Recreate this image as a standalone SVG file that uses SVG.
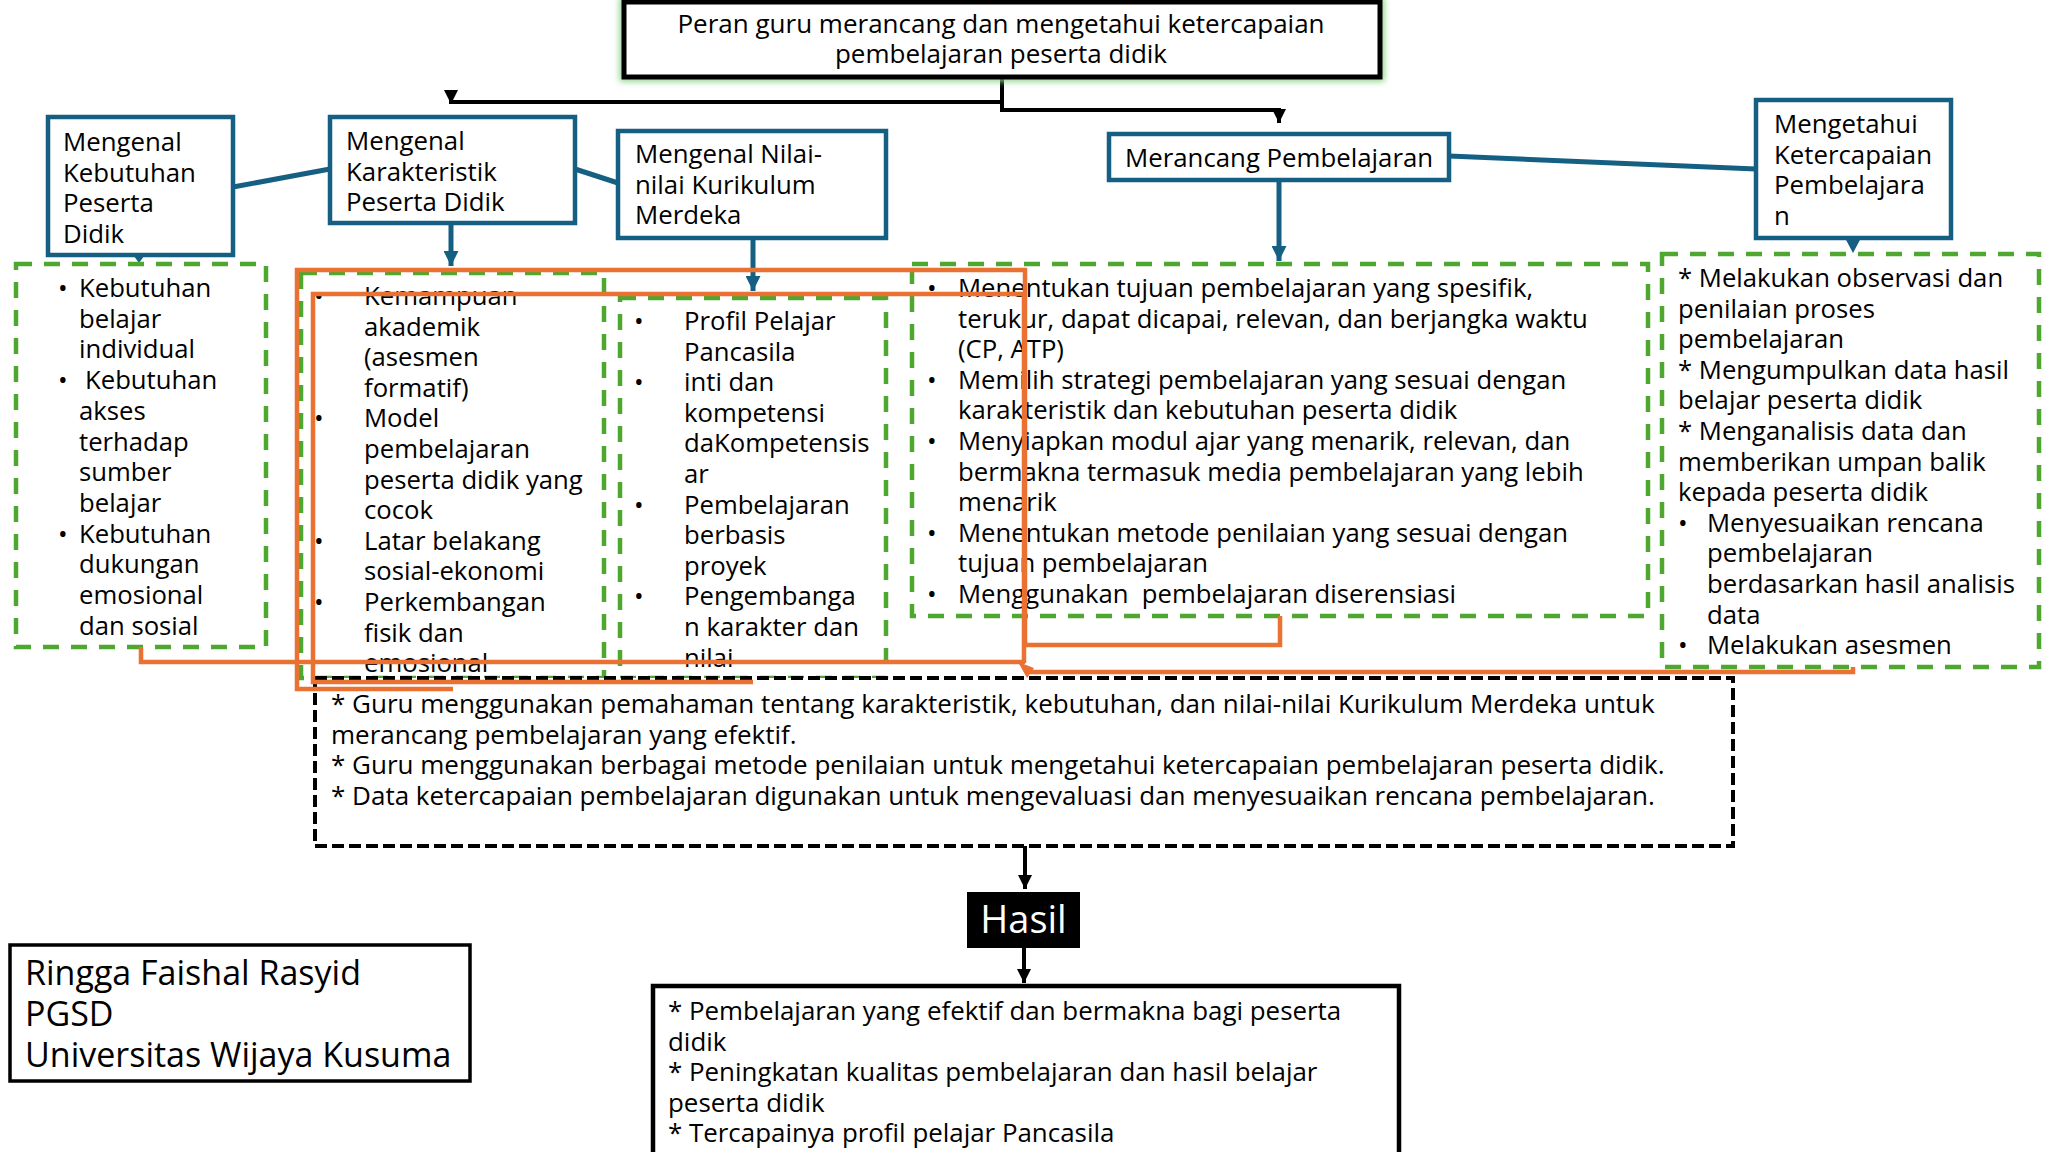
<svg xmlns="http://www.w3.org/2000/svg" width="2048" height="1152" viewBox="0 0 2048 1152">
<defs>
<style>
text{font-family:"Open Sans","Noto Sans",sans-serif;fill:#000}
.t24{font-size:26px}
.t26{font-size:25.7px}
.tb{font-size:25.8px}
.tr{font-size:25.9px}
.teal{fill:#fff;stroke:#156082;stroke-width:4.5}
.gd{fill:none;stroke:#4EA72E;stroke-width:4.5;stroke-dasharray:16 12}
.tl{stroke:#156082;stroke-width:5;fill:none}
.bl{stroke:#000;stroke-width:4;fill:none}
.or{stroke:#E97132;stroke-width:4.5;fill:none;stroke-linejoin:miter}
</style>
<filter id="glow" x="-10%" y="-30%" width="120%" height="160%">
<feGaussianBlur stdDeviation="3"/>
</filter>
<marker id="ab" viewBox="0 0 10 10" refX="10" refY="5" markerWidth="3.5" markerHeight="3.5" orient="auto" markerUnits="strokeWidth">
<path d="M0,0 L10,5 L0,10 z" fill="#000"/>
</marker>
<marker id="at" viewBox="0 0 10 10" refX="10" refY="5" markerWidth="3" markerHeight="3" orient="auto" markerUnits="strokeWidth">
<path d="M0,0 L10,5 L0,10 z" fill="#156082"/>
</marker>
</defs>
<rect width="2048" height="1152" fill="#fff"/>

<g id="connectors">
<path class="bl" d="M1002,78 V102 H451 V104" marker-end="url(#ab)"/>
<path class="bl" d="M1002,78 V110 H1279 V123" marker-end="url(#ab)"/>
<line class="tl" x1="233" y1="187" x2="330" y2="169"/>
<line class="tl" x1="575" y1="169" x2="618" y2="183"/>
<line class="tl" x1="1449" y1="156" x2="1756" y2="169"/>
<line class="tl" x1="451" y1="223" x2="451" y2="266" marker-end="url(#at)"/>
<line class="tl" x1="753" y1="238" x2="753" y2="291" marker-end="url(#at)"/>
<line class="tl" x1="1279" y1="180" x2="1279" y2="261" marker-end="url(#at)"/>
<polygon points="131,252 147,252 139,263" fill="#156082"/>
<polygon points="1845,238 1861,238 1853,253" fill="#156082"/>
<line class="bl" x1="1025" y1="846" x2="1025" y2="889" stroke-width="3" marker-end="url(#ab)"/>
<line class="bl" x1="1024" y1="948" x2="1024" y2="983" stroke-width="3" marker-end="url(#ab)"/>
</g>

<g id="top">
<rect x="624" y="2" width="756" height="75" fill="none" stroke="#8fd48a" stroke-width="9" filter="url(#glow)"/>
<rect x="624" y="2" width="756" height="75" fill="#fff" stroke="#000" stroke-width="5"/>
<text class="t24" x="1001" y="33" text-anchor="middle">Peran guru merancang dan mengetahui ketercapaian</text>
<text class="t24" x="1001" y="63" text-anchor="middle">pembelajaran peserta didik</text>
</g>

<g id="n-kebutuhan">
<rect class="teal" x="48" y="117" width="185" height="138"/>
<text class="tb"><tspan x="63" y="151">Mengenal</tspan><tspan x="63" y="181.5">Kebutuhan</tspan><tspan x="63" y="212">Peserta</tspan><tspan x="63" y="242.5">Didik</tspan></text>
</g>
<g id="n-karakteristik">
<rect class="teal" x="330" y="117" width="245" height="106"/>
<text class="tb"><tspan x="346" y="150">Mengenal</tspan><tspan x="346" y="180.5">Karakteristik</tspan><tspan x="346" y="211">Peserta Didik</tspan></text>
</g>
<g id="n-nilai">
<rect class="teal" x="618" y="131" width="268" height="107"/>
<text class="tb"><tspan x="635" y="163">Mengenal Nilai-</tspan><tspan x="635" y="193.5">nilai Kurikulum</tspan><tspan x="635" y="224">Merdeka</tspan></text>
</g>
<g id="n-merancang">
<rect class="teal" x="1109" y="134" width="340" height="46"/>
<text class="tb" x="1125" y="167">Merancang Pembelajaran</text>
</g>
<g id="n-mengetahui">
<rect class="teal" x="1756" y="100" width="195" height="138"/>
<text class="tb"><tspan x="1774" y="133">Mengetahui</tspan><tspan x="1774" y="163.5">Ketercapaian</tspan><tspan x="1774" y="194">Pembelajara</tspan><tspan x="1774" y="224.5">n</tspan></text>
</g>

<g id="g-kebutuhan">
<rect class="gd" x="16" y="264" width="250" height="383"/>
<text class="t26">
<tspan x="58" y="297">•</tspan><tspan x="79" y="297">Kebutuhan</tspan>
<tspan x="79" y="327.7">belajar</tspan>
<tspan x="79" y="358.4">individual</tspan>
<tspan x="58" y="389.1">•</tspan><tspan x="85" y="389.1">Kebutuhan</tspan>
<tspan x="79" y="419.8">akses</tspan>
<tspan x="79" y="450.5">terhadap</tspan>
<tspan x="79" y="481.2">sumber</tspan>
<tspan x="79" y="511.9">belajar</tspan>
<tspan x="58" y="542.6">•</tspan><tspan x="79" y="542.6">Kebutuhan</tspan>
<tspan x="79" y="573.3">dukungan</tspan>
<tspan x="79" y="604">emosional</tspan>
<tspan x="79" y="634.7">dan sosial</tspan>
</text>
</g>

<g id="g-karakteristik">
<rect class="gd" x="301" y="273" width="303" height="405"/>
<text class="t26">
<tspan x="314" y="305">•</tspan><tspan x="364" y="305">Kemampuan</tspan>
<tspan x="364" y="335.6">akademik</tspan>
<tspan x="364" y="366.2">(asesmen</tspan>
<tspan x="364" y="396.8">formatif)</tspan>
<tspan x="314" y="427.4">•</tspan><tspan x="364" y="427.4">Model</tspan>
<tspan x="364" y="458">pembelajaran</tspan>
<tspan x="364" y="488.6">peserta didik yang</tspan>
<tspan x="364" y="519.2">cocok</tspan>
<tspan x="314" y="549.8">•</tspan><tspan x="364" y="549.8">Latar belakang</tspan>
<tspan x="364" y="580.4">sosial-ekonomi</tspan>
<tspan x="314" y="611">•</tspan><tspan x="364" y="611">Perkembangan</tspan>
<tspan x="364" y="641.6">fisik dan</tspan>
<tspan x="364" y="672.2">emosional</tspan>
</text>
</g>

<g id="g-nilai">
<rect class="gd" x="620" y="298" width="266" height="380"/>
<text class="t26">
<tspan x="634" y="330">•</tspan><tspan x="684" y="330">Profil Pelajar</tspan>
<tspan x="684" y="360.6">Pancasila</tspan>
<tspan x="634" y="391.2">•</tspan><tspan x="684" y="391.2">inti dan</tspan>
<tspan x="684" y="421.8">kompetensi</tspan>
<tspan x="684" y="452.4">daKompetensis</tspan>
<tspan x="684" y="483">ar</tspan>
<tspan x="634" y="513.6">•</tspan><tspan x="684" y="513.6">Pembelajaran</tspan>
<tspan x="684" y="544.2">berbasis</tspan>
<tspan x="684" y="574.8">proyek</tspan>
<tspan x="634" y="605.4">•</tspan><tspan x="684" y="605.4">Pengembanga</tspan>
<tspan x="684" y="636">n karakter dan</tspan>
<tspan x="684" y="666.6">nilai</tspan>
</text>
</g>

<g id="g-merancang">
<rect class="gd" x="912" y="264" width="736" height="352"/>
<text class="t26">
<tspan x="927" y="297">•</tspan><tspan x="958" y="297">Menentukan tujuan pembelajaran yang spesifik,</tspan>
<tspan x="958" y="327.6">terukur, dapat dicapai, relevan, dan berjangka waktu</tspan>
<tspan x="958" y="358.2">(CP, ATP)</tspan>
<tspan x="927" y="388.8">•</tspan><tspan x="958" y="388.8">Memilih strategi pembelajaran yang sesuai dengan</tspan>
<tspan x="958" y="419.4">karakteristik dan kebutuhan peserta didik</tspan>
<tspan x="927" y="450">•</tspan><tspan x="958" y="450">Menyiapkan modul ajar yang menarik, relevan, dan</tspan>
<tspan x="958" y="480.6">bermakna termasuk media pembelajaran yang lebih</tspan>
<tspan x="958" y="511.2">menarik</tspan>
<tspan x="927" y="541.8">•</tspan><tspan x="958" y="541.8">Menentukan metode penilaian yang sesuai dengan</tspan>
<tspan x="958" y="572.4">tujuan pembelajaran</tspan>
<tspan x="927" y="603">•</tspan><tspan x="958" y="603" xml:space="preserve">Menggunakan  pembelajaran diserensiasi</tspan>
</text>
</g>

<g id="g-mengetahui">
<rect class="gd" x="1662" y="254" width="377" height="413"/>
<text class="t26">
<tspan x="1678" y="287">* Melakukan observasi dan</tspan>
<tspan x="1678" y="317.6">penilaian proses</tspan>
<tspan x="1678" y="348.2">pembelajaran</tspan>
<tspan x="1678" y="378.8">* Mengumpulkan data hasil</tspan>
<tspan x="1678" y="409.4">belajar peserta didik</tspan>
<tspan x="1678" y="440">* Menganalisis data dan</tspan>
<tspan x="1678" y="470.6">memberikan umpan balik</tspan>
<tspan x="1678" y="501.2">kepada peserta didik</tspan>
<tspan x="1678" y="531.8">•</tspan><tspan x="1707" y="531.8">Menyesuaikan rencana</tspan>
<tspan x="1707" y="562.4">pembelajaran</tspan>
<tspan x="1707" y="593">berdasarkan hasil analisis</tspan>
<tspan x="1707" y="623.6">data</tspan>
<tspan x="1678" y="654.2">•</tspan><tspan x="1707" y="654.2">Melakukan asesmen</tspan>
</text>
</g>

<g id="summary">
<rect x="315" y="678" width="1418" height="168" fill="#fff" stroke="#000" stroke-width="4" stroke-dasharray="12 5"/>
<text class="t24">
<tspan x="331" y="713">* Guru menggunakan pemahaman tentang karakteristik, kebutuhan, dan nilai-nilai Kurikulum Merdeka untuk</tspan>
<tspan x="331" y="743.5">merancang pembelajaran yang efektif.</tspan>
<tspan x="331" y="774">* Guru menggunakan berbagai metode penilaian untuk mengetahui ketercapaian pembelajaran peserta didik.</tspan>
<tspan x="331" y="804.5">* Data ketercapaian pembelajaran digunakan untuk mengevaluasi dan menyesuaikan rencana pembelajaran.</tspan>
</text>
</g>

<g id="orange-links">
<path class="or" d="M141,647 V662 H1025"/>
<path class="or" d="M1853,667 V672 H1030"/>
<path class="or" d="M1280,616 V645 H1025 V270 H297 V689 H453"/>
<path class="or" d="M753,682 H313 V294 H1024 V663"/>
<polygon points="1018,662 1034,668 1027,678" fill="#E97132"/>
</g>

<g id="hasil">
<rect x="967" y="892" width="113" height="56" fill="#000"/>
<text x="1023.5" y="933" text-anchor="middle" font-size="38" style="fill:#fff">Hasil</text>
</g>

<g id="result">
<rect x="653" y="986" width="746" height="180" fill="#fff" stroke="#000" stroke-width="4.5"/>
<text class="tr">
<tspan x="668" y="1020">* Pembelajaran yang efektif dan bermakna bagi peserta</tspan>
<tspan x="668" y="1050.5">didik</tspan>
<tspan x="668" y="1081">* Peningkatan kualitas pembelajaran dan hasil belajar</tspan>
<tspan x="668" y="1111.5">peserta didik</tspan>
<tspan x="668" y="1142">* Tercapainya profil pelajar Pancasila</tspan>
</text>
</g>

<g id="author">
<rect x="10" y="945" width="460" height="136" fill="#fff" stroke="#000" stroke-width="3.5"/>
<text font-size="34"><tspan x="25" y="985">Ringga Faishal Rasyid</tspan><tspan x="25" y="1026">PGSD</tspan><tspan x="25" y="1067">Universitas Wijaya Kusuma</tspan></text>
</g>
</svg>
